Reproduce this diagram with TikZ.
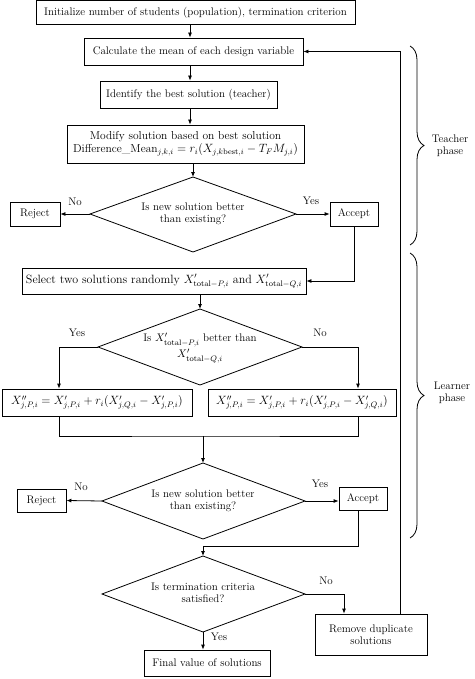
\documentclass[tikz,border=0pt]{standalone}
\usetikzlibrary{arrows.meta,decorations.pathreplacing,calc}
\begin{document}
\begin{tikzpicture}[x=1pt,y=-1pt,
  every node/.style={font=\fontsize{11}{12.5}\selectfont},
  big/.style={font=\fontsize{12}{13.5}\selectfont},
  box/.style={draw,line width=0.8pt,inner sep=0pt,align=center},
  lbl/.style={inner sep=0pt},
  arr/.style={line width=0.8pt,-{Latex[length=5pt,width=4pt]}},
  ln/.style={line width=0.8pt},
  dia/.style={line width=0.8pt},
  brc/.style={line width=0.8pt,decorate,decoration={brace,amplitude=14pt}}]
\useasboundingbox (0,0) rectangle (474,679);
% boxes
\node[box,minimum width=319pt,minimum height=24pt] (init) at (195.5,12.5) {Initialize number of students (population), termination criterion};
\node[box,minimum width=219pt,minimum height=27pt] (calc) at (193.5,51.5) {Calculate the mean of each design variable};
\node[box,minimum width=177pt,minimum height=27pt] (iden) at (188.5,94.5) {Identify the best solution (teacher)};
\node[box,minimum width=237pt,minimum height=38pt,font=\fontsize{11.5}{13}\selectfont] (modi) at (185.5,144) {Modify solution based on best solution\\Difference\_Mean$_{j,k,i}=r_i(X_{j,k\mathrm{best},i}-T_F M_{j,i})$};
\draw[arr] (init.south -| 190,0) -- (calc.north -| 190,0);
\draw[arr] (calc.south -| 190,0) -- (iden.north -| 190,0);
\draw[arr] (iden.south -| 190,0) -- (modi.north -| 190,0);
% diamond 1
\coordinate (d1t) at (193,177); \coordinate (d1l) at (90,214);
\coordinate (d1r) at (296,214); \coordinate (d1b) at (193,252);
\draw[dia] (d1t) -- (d1r) -- (d1b) -- (d1l) -- cycle;
\node[lbl,align=center] (d1) at (193,214) {Is new solution better\\than existing?};
\node[box,minimum width=50pt,minimum height=24pt] (rej1) at (35,214) {Reject};
\node[box,minimum width=48pt,minimum height=24pt] (acc1) at (354,214) {Accept};
\node[lbl] (no1) at (75,202) {No};
\node[lbl] (yes1) at (311,201) {Yes};
\draw[arr] (d1l) -- (rej1.east);
\draw[arr] (d1r) -- (acc1.west);
\draw[arr] (d1b |- modi.south) -- (d1t);
% select
\node[box,big,minimum width=284pt,minimum height=26pt] (sel) at (164,281) {Select two solutions randomly $X'_{\mathrm{total}-P,i}$ and $X'_{\mathrm{total}-Q,i}$};
\draw[arr] (acc1.south) |- (sel.east);
% diamond 2
\coordinate (d2t) at (200,309); \coordinate (d2l) at (98,347);
\coordinate (d2r) at (302,347); \coordinate (d2b) at (200,385);
\draw[dia] (d2t) -- (d2r) -- (d2b) -- (d2l) -- cycle;
\node[lbl,align=center] (d2a) at (200,340) {Is $X'_{\mathrm{total}-P,i}$ better than};
\node[lbl,align=center] (d2b) at (200,356) {$X'_{\mathrm{total}-Q,i}$};
\draw[arr] (sel.south -| d2t) -- (d2t);
\node[lbl] (yes2) at (77,333) {Yes};
\node[lbl] (no2) at (320,333) {No};
\node[box,big,minimum width=190pt,minimum height=27pt] (upd1) at (97,402.5) {$X''_{j,P,i}=X'_{j,P,i}+r_i(X'_{j,Q,i}-X'_{j,P,i})$};
\node[box,big,minimum width=188pt,minimum height=27pt] (upd2) at (302,402.5) {$X''_{j,P,i}=X'_{j,P,i}+r_i(X'_{j,P,i}-X'_{j,Q,i})$};
\coordinate (u1x) at (59,0); \coordinate (u2x) at (358,0);
\draw[arr] (d2l) -| (u1x |- upd1.north);
\draw[arr] (d2r) -| (u2x |- upd2.north);
\coordinate (merge) at (203,436);
\draw[ln] (u1x |- upd1.south) |- (merge) -| (u2x |- upd2.south);
% diamond 3
\coordinate (d3t) at (203,463); \coordinate (d3l) at (102,501);
\coordinate (d3r) at (305,501); \coordinate (d3b) at (203,539);
\draw[dia] (d3t) -- (d3r) -- (d3b) -- (d3l) -- cycle;
\draw[arr] (merge) -- (d3t);
\node[lbl,align=center] (d3) at (203,501) {Is new solution better\\than existing?};
\node[box,minimum width=49pt,minimum height=23pt] (rej2) at (41.5,500.5) {Reject};
\node[box,minimum width=48pt,minimum height=23pt] (acc2) at (363,498.5) {Accept};
\node[lbl] (no3) at (81,487) {No};
\node[lbl] (yes3) at (320,484) {Yes};
\draw[arr] (d3l) -- (rej2.east);
\draw[arr] (d3r) -- (d3r -| acc2.west);
% diamond 4
\coordinate (d4t) at (203,556); \coordinate (d4l) at (102,594);
\coordinate (d4r) at (305,594); \coordinate (d4b) at (203,632);
\draw[dia] (d4t) -- (d4r) -- (d4b) -- (d4l) -- cycle;
\coordinate (m2) at (203,546);
\draw[ln] (acc2.south -| 358,0) |- (m2);
\draw[arr] (m2) -- (d4t);
\node[lbl,align=center] (d4) at (203,593) {Is termination criteria\\satisfied?};
\node[box,minimum width=112pt,minimum height=41pt] (rem) at (371,634.5) {Remove duplicate\\solutions};
\node[box,minimum width=126pt,minimum height=26pt] (fin) at (207,663) {Final value of solutions};
\node[lbl] (no4) at (326,581) {No};
\node[lbl] (yes4) at (219,637) {Yes};
\draw[arr] (d4r) -| (rem.north -| 344,0);
\draw[arr] (d4b) -- (d4b |- fin.north);
% feedback
\coordinate (fb) at (400,0);
\draw[arr] (rem.north -| fb) |- (calc.east);
% braces
\draw[brc] (410,46) -- (410,245);
\node[lbl,align=center] (tp) at (450,146) {Teacher\\phase};
\draw[brc] (410,253) -- (410,538);
\node[lbl,align=center] (lp) at (452,393) {Learner\\phase};
\end{tikzpicture}
\end{document}
